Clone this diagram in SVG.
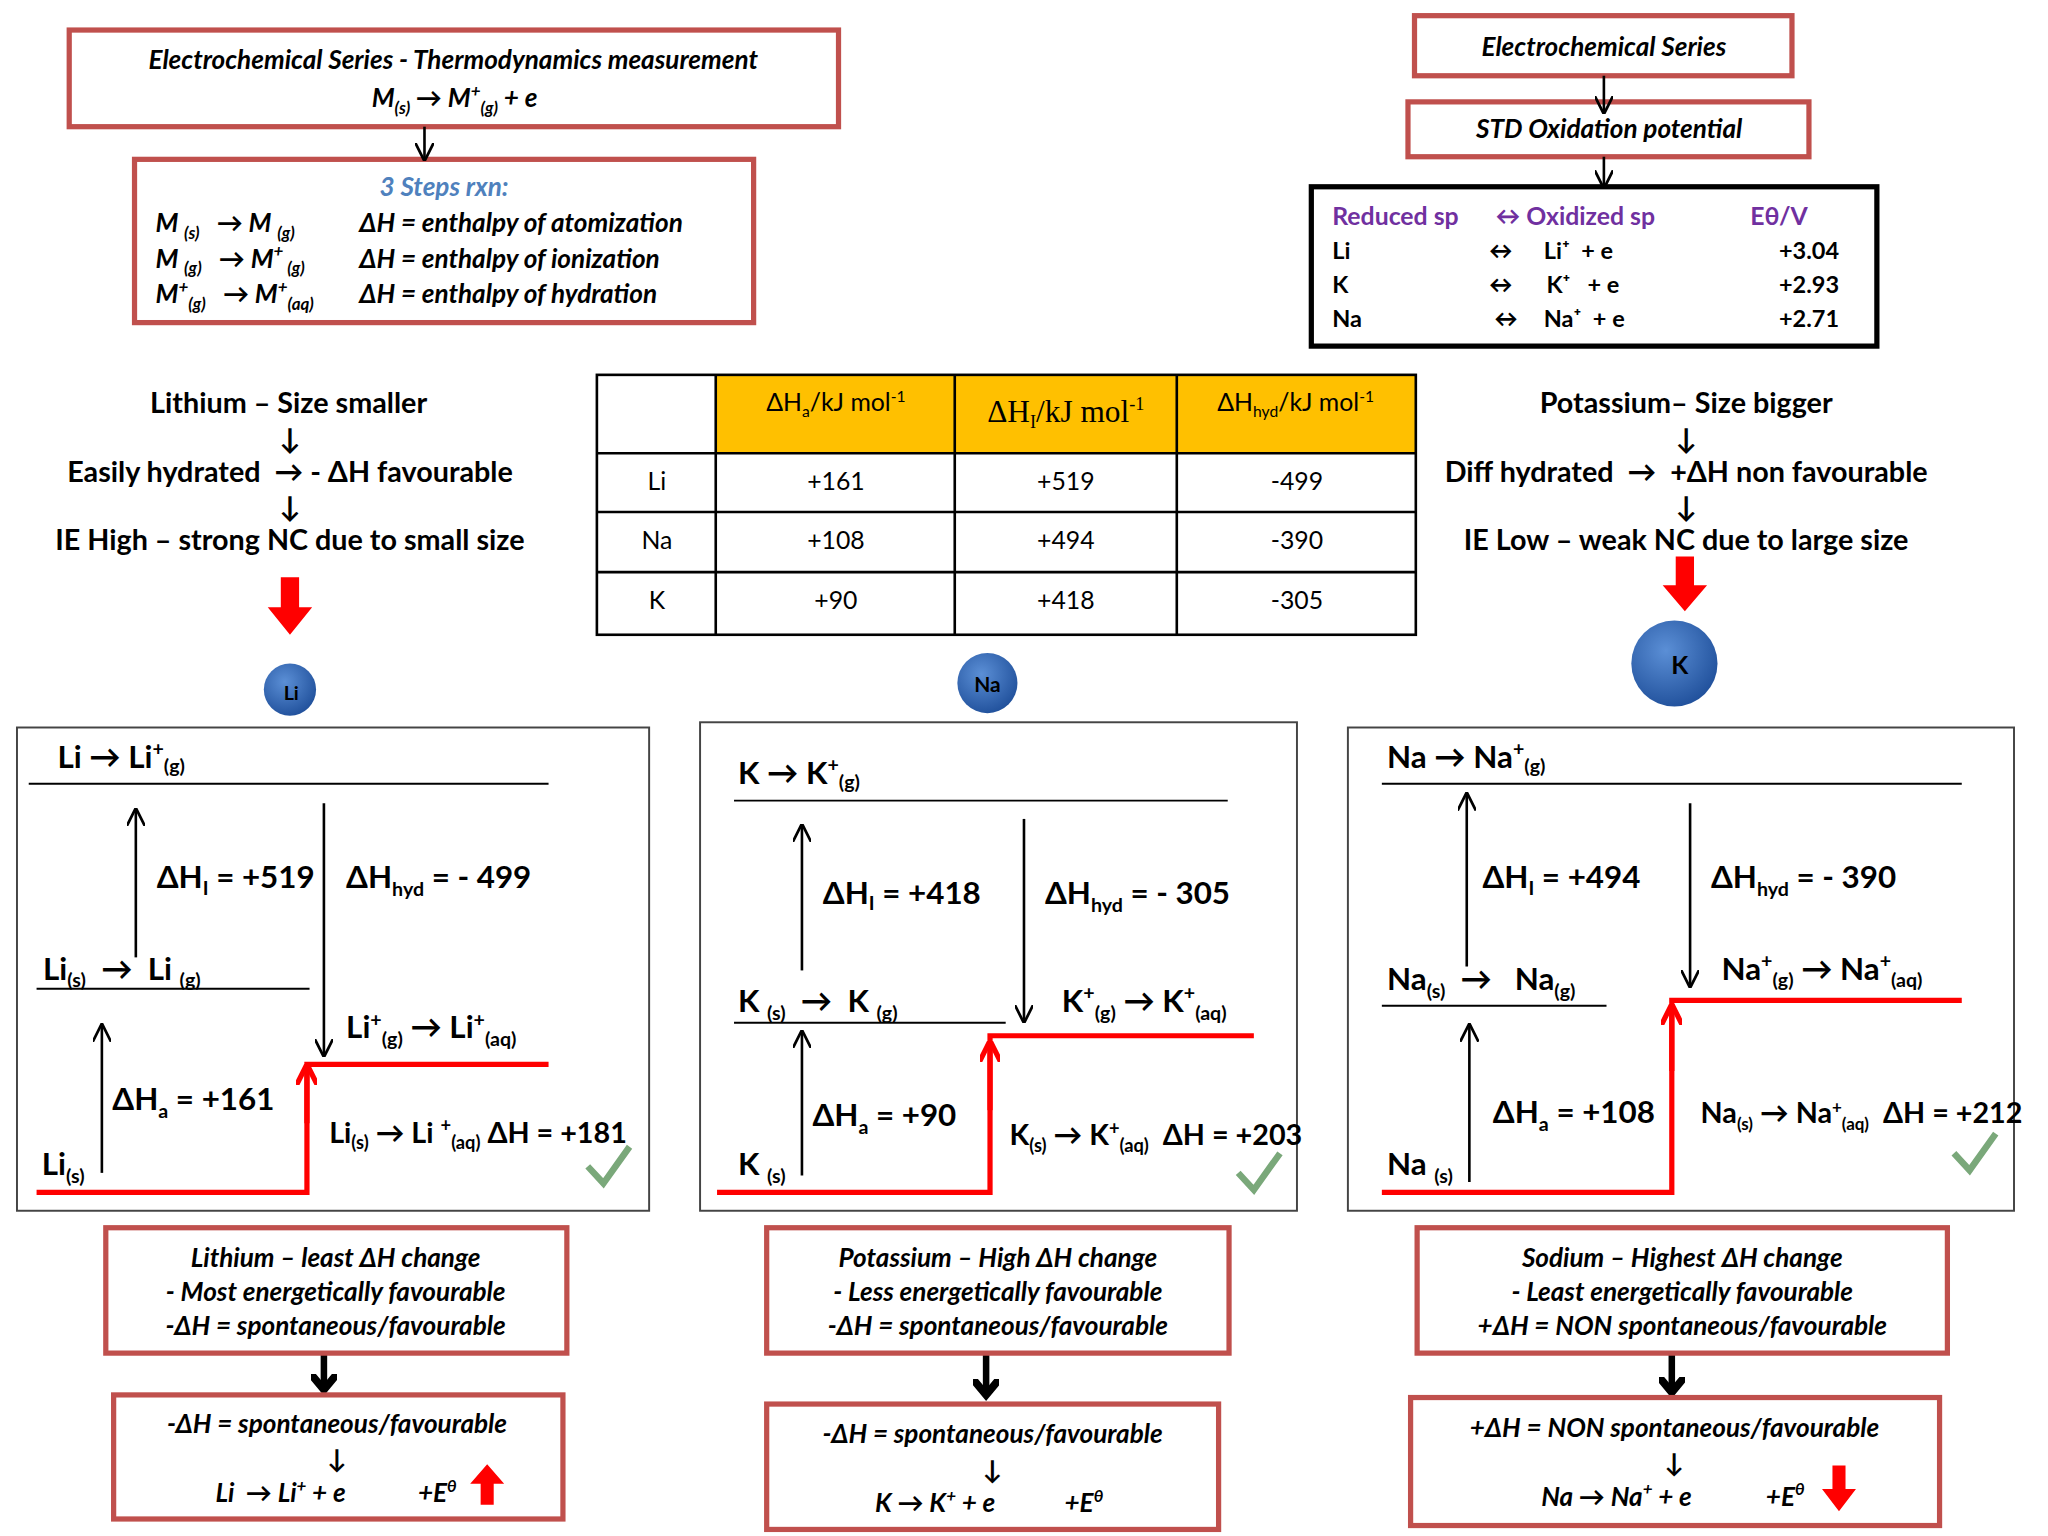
<svg xmlns="http://www.w3.org/2000/svg" width="2048" height="1536" viewBox="0 0 2048 1536">
<defs>
<marker id="ah" viewBox="0 0 10 10" refX="9" refY="5" markerWidth="7" markerHeight="7" orient="auto"><path d="M0,0 L10,5 L0,10" fill="none" stroke="#000" stroke-width="1.5"/></marker>
<marker id="rh" viewBox="0 0 10 10" refX="8" refY="5" markerWidth="4" markerHeight="4" orient="auto"><path d="M0,0 L10,5 L0,10" fill="none" stroke="#f00" stroke-width="2.5"/></marker>
<marker id="bh" viewBox="0 0 10 10" refX="5" refY="5" markerWidth="4" markerHeight="4" orient="auto"><path d="M0,0 L6,5 L0,10" fill="none" stroke="#000" stroke-width="3"/></marker>
<radialGradient id="ball" cx="0.4" cy="0.35" r="0.7"><stop offset="0" stop-color="#5b8fd6"/><stop offset="1" stop-color="#1f4f9a"/></radialGradient>
</defs>
<style>
text{font-family:Lato,"Open Sans",sans-serif;fill:#000;white-space:pre}
.rb{fill:#fff;stroke:#c0504d;stroke-width:4}
.pn{fill:#fff;stroke:#444;stroke-width:1.5}
.bi{font-style:italic;font-weight:bold;font-size:20px}
.b{font-weight:bold;font-size:22px}
.e{font-weight:bold;font-size:24px}
.t{font-size:19px}
.ln{stroke:#000;stroke-width:1.5;fill:none}
.ar{stroke:#000;stroke-width:2;fill:none;marker-end:url(#ah)}
.red{stroke:#f00;stroke-width:4;fill:none}
.m{text-anchor:middle}
.pu{fill:#7030a0;font-weight:bold;font-size:19px}
.rw{font-weight:bold;font-size:18px}
</style>
<rect width="2048" height="1536" fill="#fff"/>
<g transform="scale(1.3061)">
<g id="top-left">
<rect class="rb" x="53" y="23" width="589" height="74"/>
<text class="bi m" x="347" y="53" font-size="21">Electrochemical Series - Thermodynamics measurement</text>
<text class="bi m" x="348" y="82" font-size="21">M<tspan font-size="13" dy="5">(s)</tspan><tspan dy="-5"> → M</tspan><tspan font-size="13" dy="-8">+</tspan><tspan font-size="13" dy="13">(g)</tspan><tspan dy="-5"> + e</tspan></text>
<rect class="rb" x="103" y="122" width="474" height="125"/>
<text class="bi m" x="340" y="150" style="fill:#4f81bd">3 Steps rxn:</text>
<text class="bi" x="119" y="178">M <tspan font-size="13" dy="5">(s)</tspan><tspan dy="-5">   → M </tspan><tspan font-size="13" dy="5">(g)</tspan><tspan x="275" dy="-5">ΔH = enthalpy of atomization</tspan></text>
<text class="bi" x="119" y="205">M <tspan font-size="13" dy="5">(g)</tspan><tspan dy="-5">   → M</tspan><tspan font-size="13" dy="-8">+</tspan><tspan font-size="13" dy="13"> (g)</tspan><tspan x="275" dy="-5">ΔH = enthalpy of ionization</tspan></text>
<text class="bi" x="119" y="232">M<tspan font-size="13" dy="-8">+</tspan><tspan font-size="13" dy="13">(g)</tspan><tspan dy="-5">   → M</tspan><tspan font-size="13" dy="-8">+</tspan><tspan font-size="13" dy="13">(aq)</tspan><tspan x="275" dy="-5">ΔH = enthalpy of hydration</tspan></text>
</g>
<g id="top-right">
<rect class="rb" x="1083" y="12" width="289" height="46"/>
<text class="bi m" x="1228" y="43">Electrochemical Series</text>
<rect class="rb" x="1078" y="78" width="307" height="42"/>
<text class="bi m" x="1232" y="106">STD Oxidation potential</text>
<rect x="1004" y="143" width="433" height="122" fill="#fff" stroke="#000" stroke-width="4"/>
<text class="pu" x="1020" y="172">Reduced sp</text><text class="pu" x="1145" y="172">↔ Oxidized sp</text><text class="pu" x="1340" y="172">Eθ/V</text>
<text class="rw" x="1020" y="198">Li</text><text class="rw" x="1140" y="198">↔</text><text class="rw" x="1182" y="198">Li⁺  + e</text><text class="rw" x="1362" y="198">+3.04</text>
<text class="rw" x="1020" y="224">K</text><text class="rw" x="1140" y="224">↔</text><text class="rw" x="1184" y="224">K⁺   + e</text><text class="rw" x="1362" y="224">+2.93</text>
<text class="rw" x="1020" y="250">Na</text><text class="rw" x="1144" y="250">↔</text><text class="rw" x="1182" y="250">Na⁺  + e</text><text class="rw" x="1362" y="250">+2.71</text>
</g>
<g id="connectors">
<line class="ar" x1="325" y1="97" x2="325" y2="122"/>
<line class="ar" x1="1228" y1="58" x2="1228" y2="86"/>
<line class="ar" x1="1228" y1="120" x2="1228" y2="143"/>
<line x1="248" y1="1036" x2="248" y2="1062" stroke="#000" stroke-width="5" marker-end="url(#bh)"/>
<line x1="755" y1="1036" x2="755" y2="1066" stroke="#000" stroke-width="5" marker-end="url(#bh)"/>
<line x1="1280" y1="1036" x2="1280" y2="1064" stroke="#000" stroke-width="5" marker-end="url(#bh)"/>
</g>
<g id="li-text">
<text class="b m" x="221" y="316">Lithium – Size smaller</text>
<text class="b m" x="222" y="344">↓</text>
<text class="b m" x="222" y="369">Easily hydrated  → - ΔH favourable</text>
<text class="b m" x="222" y="396">↓</text>
<text class="b m" x="222" y="421">IE High – strong NC due to small size</text>
<path d="M215,442 H229 V465 H239 L222,486 L205,465 H215 Z" fill="#f00"/>
<circle cx="222" cy="528" r="20" fill="url(#ball)"/>
<text class="m" x="223" y="536" font-weight="bold" font-size="15">Li</text>
</g>
<g id="k-text">
<text class="b m" x="1291" y="316">Potassium– Size bigger</text>
<text class="b m" x="1291" y="344">↓</text>
<text class="b m" x="1291" y="369">Diff hydrated  →  +ΔH non favourable</text>
<text class="b m" x="1291" y="396">↓</text>
<text class="b m" x="1291" y="421">IE Low – weak NC due to large size</text>
<path d="M1283,426 H1297 V448 H1307 L1290,468 L1273,448 H1283 Z" fill="#f00"/>
<circle cx="1282" cy="508" r="33" fill="url(#ball)"/>
<text class="m" x="1286" y="516" font-weight="bold" font-size="19">K</text>
<circle cx="756" cy="523" r="23" fill="url(#ball)"/>
<text class="m" x="756" y="530" font-weight="bold" font-size="16">Na</text>
</g>
<g id="table">
<rect x="548" y="287" width="536" height="60" fill="#ffc000"/>
<rect x="457" y="287" width="627" height="199" fill="none" stroke="#000" stroke-width="2"/>
<path d="M548,287V486M731,287V486M901,287V486M457,347H1084M457,392H1084M457,438H1084" stroke="#000" stroke-width="2"/>
<text class="t m" x="640" y="315">ΔH<tspan font-size="12" dy="4">a</tspan><tspan dy="-4">/kJ mol</tspan><tspan font-size="12" dy="-7">-1</tspan></text>
<text class="m" x="816" y="323" font-family="Liberation Serif" font-size="24" style="font-family:'Liberation Serif',serif">ΔH<tspan font-size="14" dy="5">I</tspan><tspan dy="-5">/kJ mol</tspan><tspan font-size="14" dy="-9">-1</tspan></text>
<text class="t m" x="992" y="315">ΔH<tspan font-size="12" dy="4">hyd</tspan><tspan dy="-4">/kJ mol</tspan><tspan font-size="12" dy="-7">-1</tspan></text>
<text class="t m" x="503" y="375">Li</text><text class="t m" x="640" y="375">+161</text><text class="t m" x="816" y="375">+519</text><text class="t m" x="993" y="375">-499</text>
<text class="t m" x="503" y="420">Na</text><text class="t m" x="640" y="420">+108</text><text class="t m" x="816" y="420">+494</text><text class="t m" x="993" y="420">-390</text>
<text class="t m" x="503" y="466">K</text><text class="t m" x="640" y="466">+90</text><text class="t m" x="816" y="466">+418</text><text class="t m" x="993" y="466">-305</text>
</g>
<g id="panel-li">
<rect class="pn" x="13" y="557" width="484" height="370"/>
<text class="e" x="44" y="588">Li → Li<tspan font-size="15" dy="-9">+</tspan><tspan font-size="15" dy="13">(g)</tspan></text>
<line class="ln" x1="22" y1="600" x2="420" y2="600"/>
<line class="ar" x1="104" y1="733" x2="104" y2="620"/>
<text class="e" x="120" y="680">ΔH<tspan font-size="15" dy="5">I</tspan><tspan dy="-5"> = +519</tspan></text>
<line class="ar" x1="248" y1="615" x2="248" y2="808"/>
<text class="e" x="265" y="680">ΔH<tspan font-size="15" dy="6">hyd</tspan><tspan dy="-6"> = - 499</tspan></text>
<text class="e" x="33" y="750">Li<tspan font-size="15" dy="6">(s)</tspan><tspan dy="-6">  →  Li </tspan><tspan font-size="15" dy="6">(g)</tspan></text>
<line class="ln" x1="28" y1="757" x2="237" y2="757"/>
<line class="ar" x1="78" y1="898" x2="78" y2="785"/>
<text class="e" x="86" y="850">ΔH<tspan font-size="15" dy="6">a</tspan><tspan dy="-6"> = +161</tspan></text>
<text class="e" x="265" y="795">Li<tspan font-size="15" dy="-9">+</tspan><tspan font-size="15" dy="15">(g)</tspan><tspan dy="-6"> → Li</tspan><tspan font-size="15" dy="-9">+</tspan><tspan font-size="15" dy="15">(aq)</tspan></text>
<path class="red" d="M28,913 H235 V815 H420"/>
<line x1="235" y1="860" x2="235" y2="818" stroke="#f00" stroke-width="4" marker-end="url(#rh)"/>
<text class="e" x="32" y="900">Li<tspan font-size="15" dy="6">(s)</tspan></text>
<text class="b" x="252" y="875">Li<tspan font-size="14" dy="5">(s)</tspan><tspan dy="-5"> → Li </tspan><tspan font-size="14" dy="-8">+</tspan><tspan font-size="14" dy="13">(aq)</tspan><tspan dy="-5"> ΔH = +181</tspan></text>
<path d="M450,893 L462,906 L482,878" fill="none" stroke="#7aa87a" stroke-width="5"/>
</g>
<g id="panel-k">
<rect class="pn" x="536" y="553" width="457" height="374"/>
<text class="e" x="565" y="600">K → K<tspan font-size="15" dy="-9">+</tspan><tspan font-size="15" dy="13">(g)</tspan></text>
<line class="ln" x1="562" y1="613" x2="940" y2="613"/>
<line class="ar" x1="614" y1="743" x2="614" y2="632"/>
<text class="e" x="630" y="692">ΔH<tspan font-size="15" dy="5">I</tspan><tspan dy="-5"> = +418</tspan></text>
<line class="ar" x1="784" y1="627" x2="784" y2="782"/>
<text class="e" x="800" y="692">ΔH<tspan font-size="15" dy="6">hyd</tspan><tspan dy="-6"> = - 305</tspan></text>
<text class="e" x="565" y="775">K <tspan font-size="15" dy="6">(s)</tspan><tspan dy="-6">  →  K </tspan><tspan font-size="15" dy="6">(g)</tspan></text>
<line class="ln" x1="562" y1="783" x2="770" y2="783"/>
<line class="ar" x1="614" y1="900" x2="614" y2="790"/>
<text class="e" x="622" y="862">ΔH<tspan font-size="15" dy="6">a</tspan><tspan dy="-6"> = +90</tspan></text>
<text class="e" x="813" y="775">K<tspan font-size="15" dy="-9">+</tspan><tspan font-size="15" dy="15">(g)</tspan><tspan dy="-6"> → K</tspan><tspan font-size="15" dy="-9">+</tspan><tspan font-size="15" dy="15">(aq)</tspan></text>
<path class="red" d="M549,913 H758 V793 H960"/>
<line x1="758" y1="850" x2="758" y2="800" stroke="#f00" stroke-width="4" marker-end="url(#rh)"/>
<text class="e" x="565" y="900">K <tspan font-size="15" dy="6">(s)</tspan></text>
<text class="b" x="773" y="877" font-size="19">K<tspan font-size="14" dy="5">(s)</tspan><tspan dy="-5"> → K</tspan><tspan font-size="14" dy="-8">+</tspan><tspan font-size="14" dy="13">(aq)</tspan><tspan dy="-5">  ΔH = +203</tspan></text>
<path d="M948,898 L960,911 L980,883" fill="none" stroke="#7aa87a" stroke-width="5"/>
</g>
<g id="panel-na">
<rect class="pn" x="1032" y="557" width="510" height="370"/>
<text class="e" x="1062" y="588">Na → Na<tspan font-size="15" dy="-9">+</tspan><tspan font-size="15" dy="13">(g)</tspan></text>
<line class="ln" x1="1058" y1="600" x2="1502" y2="600"/>
<line class="ar" x1="1123" y1="740" x2="1123" y2="608"/>
<text class="e" x="1135" y="680">ΔH<tspan font-size="15" dy="5">I</tspan><tspan dy="-5"> = +494</tspan></text>
<line class="ar" x1="1294" y1="615" x2="1294" y2="755"/>
<text class="e" x="1310" y="680">ΔH<tspan font-size="15" dy="6">hyd</tspan><tspan dy="-6"> = - 390</tspan></text>
<text class="e" x="1062" y="758">Na<tspan font-size="15" dy="6">(s)</tspan><tspan dy="-6">  →   Na</tspan><tspan font-size="15" dy="6">(g)</tspan></text>
<line class="ln" x1="1058" y1="770" x2="1230" y2="770"/>
<line class="ar" x1="1125" y1="905" x2="1125" y2="785"/>
<text class="e" x="1143" y="860">ΔH<tspan font-size="15" dy="6">a</tspan><tspan dy="-6"> = +108</tspan></text>
<text class="e" x="1318" y="750">Na<tspan font-size="15" dy="-9">+</tspan><tspan font-size="15" dy="15">(g)</tspan><tspan dy="-6"> → Na</tspan><tspan font-size="15" dy="-9">+</tspan><tspan font-size="15" dy="15">(aq)</tspan></text>
<path class="red" d="M1058,913 H1280 V766 H1502"/>
<line x1="1280" y1="820" x2="1280" y2="772" stroke="#f00" stroke-width="4" marker-end="url(#rh)"/>
<text class="e" x="1062" y="900">Na <tspan font-size="15" dy="6">(s)</tspan></text>
<text class="b" x="1302" y="860" font-size="17">Na<tspan font-size="13" dy="5">(s)</tspan><tspan dy="-5"> → Na</tspan><tspan font-size="13" dy="-8">+</tspan><tspan font-size="13" dy="13">(aq)</tspan><tspan dy="-5">  ΔH = +212</tspan></text>
<path d="M1496,883 L1508,896 L1528,868" fill="none" stroke="#7aa87a" stroke-width="5"/>
</g>
<g id="bottom-li">
<rect class="rb" x="81" y="940" width="353" height="96"/>
<text class="bi m" x="257" y="970">Lithium – least ΔH change</text>
<text class="bi m" x="257" y="996">- Most energetically favourable</text>
<text class="bi m" x="257" y="1022">-ΔH = spontaneous/favourable</text>
<rect class="rb" x="87" y="1068" width="344" height="95"/>
<text class="bi m" x="258" y="1097">-ΔH = spontaneous/favourable</text>
<text class="bi m" x="258" y="1124">↓</text>
<text class="bi" x="165" y="1150">Li  → Li<tspan font-size="13" dy="-8">+</tspan><tspan dy="8"> + e</tspan></text>
<text class="bi" x="320" y="1150">+E<tspan font-size="13" dy="-8">θ</tspan></text>
<path d="M368,1152 H378 V1136 H386 L373,1121 L360,1136 H368 Z" fill="#f00"/>
</g>
<g id="bottom-k">
<rect class="rb" x="587" y="940" width="354" height="96"/>
<text class="bi m" x="764" y="970">Potassium – High ΔH change</text>
<text class="bi m" x="764" y="996">- Less energetically favourable</text>
<text class="bi m" x="764" y="1022">-ΔH = spontaneous/favourable</text>
<rect class="rb" x="587" y="1075" width="346" height="96"/>
<text class="bi m" x="760" y="1105">-ΔH = spontaneous/favourable</text>
<text class="bi m" x="760" y="1132">↓</text>
<text class="bi" x="670" y="1158">K → K<tspan font-size="13" dy="-8">+</tspan><tspan dy="8"> + e</tspan></text>
<text class="bi" x="815" y="1158">+E<tspan font-size="13" dy="-8">θ</tspan></text>
</g>
<g id="bottom-na">
<rect class="rb" x="1085" y="940" width="406" height="96"/>
<text class="bi m" x="1288" y="970">Sodium – Highest ΔH change</text>
<text class="bi m" x="1288" y="996">- Least energetically favourable</text>
<text class="bi m" x="1288" y="1022">+ΔH = NON spontaneous/favourable</text>
<rect class="rb" x="1080" y="1070" width="405" height="98"/>
<text class="bi m" x="1282" y="1100">+ΔH = NON spontaneous/favourable</text>
<text class="bi m" x="1282" y="1127">↓</text>
<text class="bi" x="1180" y="1153">Na → Na<tspan font-size="13" dy="-8">+</tspan><tspan dy="8"> + e</tspan></text>
<text class="bi" x="1352" y="1153">+E<tspan font-size="13" dy="-8">θ</tspan></text>
<path d="M1403,1122 H1413 V1140 H1421 L1408,1157 L1395,1140 H1403 Z" fill="#f00"/>
</g>
</g>
</svg>
